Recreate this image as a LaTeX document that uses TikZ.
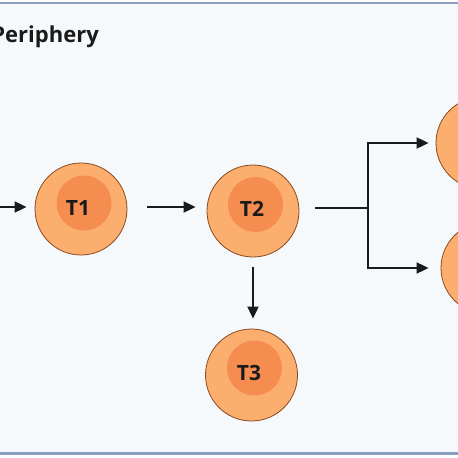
\documentclass[tikz,border=0pt]{standalone}
\usepackage{fontspec}
\setmainfont{Open Sans}
\usetikzlibrary{arrows.meta}
\definecolor{bg}{HTML}{F6F9FC}
\definecolor{framec}{HTML}{8A9FC0}
\definecolor{outerc}{HTML}{FBAE6E}
\definecolor{innerc}{HTML}{F48D4F}
\definecolor{rim}{HTML}{8A4A1C}
\definecolor{ink}{HTML}{1A1A1A}
\begin{document}
\begin{tikzpicture}[x=1pt,y=-1pt,
  cell/.style={circle, draw=rim, line width=0.8pt, fill=outerc, minimum size=92pt, inner sep=0pt},
  core/.style={circle, fill=innerc, minimum size=55pt, inner sep=0pt},
  lbl/.style={font=\bfseries\fontsize{21}{21}\selectfont, text=ink, inner sep=0pt},
  arr/.style={draw=ink, line width=1.8pt, -{Triangle[length=12pt,width=11pt]}},
  ln/.style={draw=ink, line width=1.8pt}]
\useasboundingbox (0,0) rectangle (458,458);
\clip (0,0) rectangle (458,458);
\fill[white] (0,0) rectangle (458,458);
\fill[bg] (-5,3) rectangle (463,453);
\draw[framec, line width=2.5pt] (-5,3) -- (463,3);
\draw[framec, line width=2.5pt] (-5,453.3) -- (463,453.3);
\node[anchor=base west, inner sep=0pt, font=\bfseries\fontsize{22}{22}\selectfont, text=ink] (title) at (5,42) {\llap{P}eriphery};
% cells
\node[cell] (T1) at (81,209) {};
\node[core] (T1c) at (84,203) {};
\node[lbl] (T1l) at (78,208) {T1};
\node[cell] (T2) at (253,211) {};
\node[core] (T2c) at (255.5,204.5) {};
\node[lbl] (T2l) at (252,209) {T2};
\node[cell] (T3) at (251.5,375) {};
\node[core] (T3c) at (254.5,368) {};
\node[lbl] (T3l) at (249,373) {T3};
\node[cell] (R1) at (482,143) {};
\node[cell] (R2) at (487,268) {};
% connectors
\coordinate (inL) at (-5,207);
\coordinate (J) at (368,208);
\draw[arr, shorten >=8pt] (inL) -- (T1.west |- inL);
\draw[arr, shorten <=20pt, shorten >=11pt] (T1.east |- 0,207) -- (T2.west |- 0,207);
\draw[ln, shorten <=16pt] (T2.east |- J) -- (J);
\draw[arr, shorten >=7pt] (J) |- (R1);
\draw[arr, shorten >=12pt] (J) |- (R2);
\draw[arr, shorten <=10pt, shorten >=10pt] (T2.south) -- (T2.south |- T3.north);
\end{tikzpicture}
\end{document}
